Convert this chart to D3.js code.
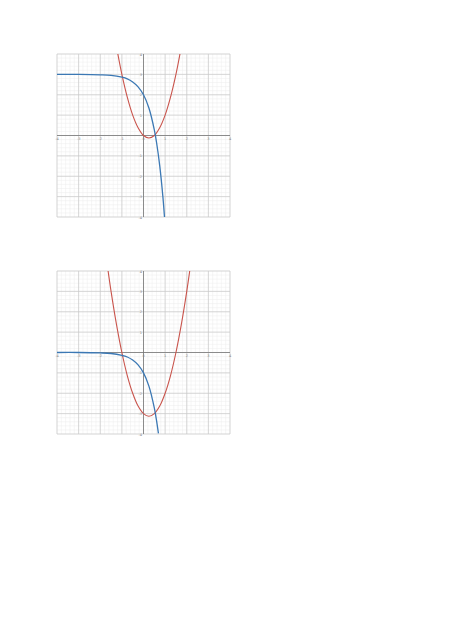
<!DOCTYPE html>
<html><head><meta charset="utf-8">
<script src="https://cdn.jsdelivr.net/npm/d3@7"></script>
<style>body{margin:0;background:#fff}</style>
</head><body>
<svg id="c" width="474" height="632"></svg>
<script>
// points
const blue1 = [[-4,3],[-3,3],[-2,2.98],[-1.5,2.95],[-1,2.86],[-0.75,2.78],[-0.5,2.63],[-0.25,2.39],[0,2],[0.25,1.35],[0.5,0.28],[0.6,-0.32],[0.75,-1.48],[0.9,-3.05],[0.97,-4]];
const red1 = [[-1.2,4.08],[-1,3],[-0.75,1.88],[-0.5,1],[-0.25,0.38],[0,0],[0.25,-0.125],[0.5,0],[0.75,0.38],[1,1],[1.25,1.88],[1.5,3],[1.7,4.08]];
const blue2 = [[-4,0],[-3,0],[-2,-0.02],[-1.5,-0.05],[-1,-0.14],[-0.75,-0.22],[-0.5,-0.37],[-0.25,-0.61],[0,-1],[0.25,-1.65],[0.5,-2.72],[0.6,-3.32],[0.69,-3.97]];
const red2 = [[-1.65,4.1],[-1.5,3],[-1.25,1.38],[-1,0],[-0.75,-1.13],[-0.5,-2],[-0.25,-2.63],[0,-3],[0.25,-3.13],[0.5,-3],[0.75,-2.63],[1,-2],[1.25,-1.13],[1.5,0],[1.75,1.38],[2,3],[2.15,4.1]];
const ticks = [-4,-3,-2,-1,0,1,2,3,4];

const svg = d3.select("#c");
function graph(top, blue, red, id) {
  const x = d3.scaleLinear().domain([-4,4]).range([57,230]);
  const y = d3.scaleLinear().domain([-4,4]).range([top+163,top]);
  const g = svg.append("g");
  g.append("clipPath").attr("id",id).append("rect")
    .attr("x",57).attr("y",top).attr("width",173).attr("height",163);
  const minor = d3.range(-4,4.01,0.2);
  g.selectAll(".mx").data(minor).join("line").attr("x1",d=>x(d)).attr("x2",d=>x(d))
    .attr("y1",top).attr("y2",top+163).attr("stroke","#ececec").attr("stroke-width",0.5);
  g.selectAll(".my").data(minor).join("line").attr("y1",d=>y(d)).attr("y2",d=>y(d))
    .attr("x1",57).attr("x2",230).attr("stroke","#ececec").attr("stroke-width",0.5);
  g.selectAll(".Mx").data(ticks).join("line").attr("x1",d=>x(d)).attr("x2",d=>x(d))
    .attr("y1",top).attr("y2",top+163).attr("stroke","#c8c8c8").attr("stroke-width",0.7);
  g.selectAll(".My").data(ticks).join("line").attr("y1",d=>y(d)).attr("y2",d=>y(d))
    .attr("x1",57).attr("x2",230).attr("stroke","#c8c8c8").attr("stroke-width",0.7);
  g.append("line").attr("x1",57).attr("x2",230).attr("y1",y(0)).attr("y2",y(0)).attr("stroke","#777").attr("stroke-width",0.8);
  g.append("line").attr("x1",x(0)).attr("x2",x(0)).attr("y1",top).attr("y2",top+163).attr("stroke","#777").attr("stroke-width",0.8);
  g.selectAll(".tx").data(ticks).join("text").attr("x",d=>x(d)).attr("y",y(0)+4)
    .attr("text-anchor","middle").attr("font-size",3.5).attr("fill","#888").attr("font-family","DejaVu Sans").text(d=>d);
  g.selectAll(".ty").data(ticks.filter(d=>d!==0)).join("text").attr("x",x(0)-1.5).attr("y",d=>y(d)+1.5)
    .attr("text-anchor","end").attr("font-size",3.5).attr("fill","#888").attr("font-family","DejaVu Sans").text(d=>d);
  const line = d3.line().x(d=>x(d[0])).y(d=>y(d[1])).curve(d3.curveCatmullRom);
  const cg = g.append("g").attr("clip-path",`url(#${id})`);
  cg.append("path").attr("d",line(red)).attr("fill","none").attr("stroke","#c9544c").attr("stroke-width",1.1);
  cg.append("path").attr("d",line(blue)).attr("fill","none").attr("stroke","#3b78b4").attr("stroke-width",1.3);
}
graph(54, blue1, red1, "c1");
graph(271, blue2, red2, "c2");
</script>
</body></html>
